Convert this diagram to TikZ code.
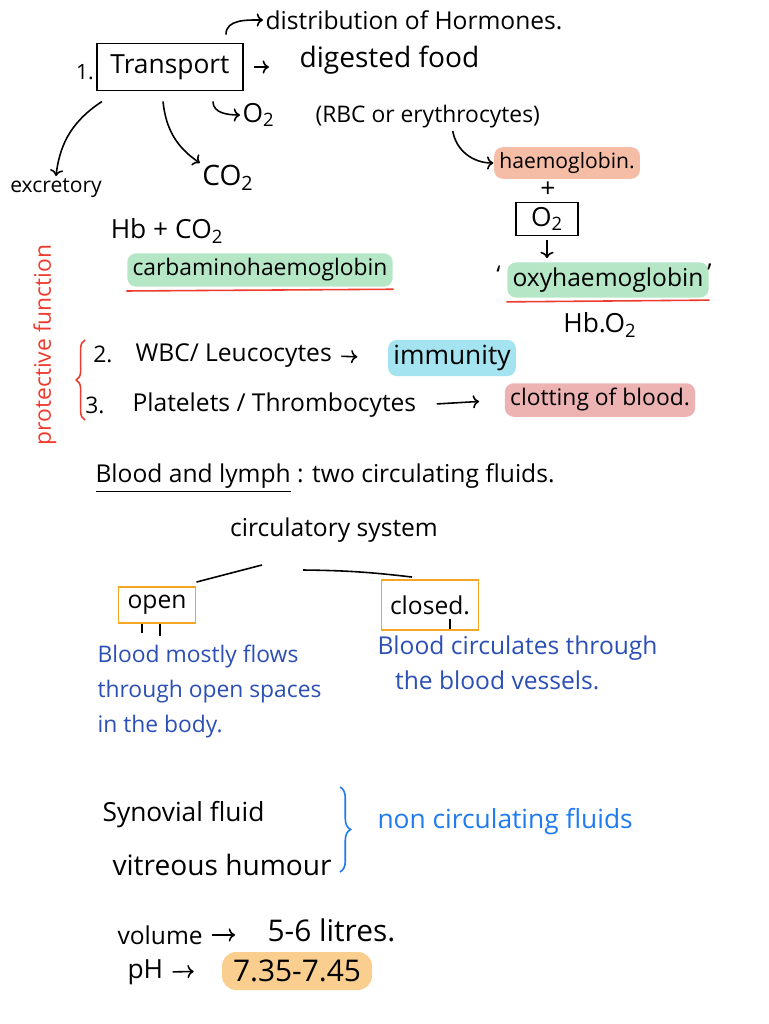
\documentclass[tikz,border=0pt]{standalone}
\usepackage{fontspec}
\setmainfont{Open Sans}
\usetikzlibrary{arrows.meta, positioning, calc, decorations.pathreplacing}
\usepackage{xcolor}
\definecolor{myred}{HTML}{EE3B2E}
\definecolor{myblue}{HTML}{2C4FB5}
\definecolor{mylightblue}{HTML}{1F7BEF}
\definecolor{myorange}{HTML}{F5A623}
\definecolor{mysalmon}{HTML}{F5BCA6}
\definecolor{mygreen}{HTML}{B5E7C6}
\definecolor{mycyan}{HTML}{A3E4F0}
\definecolor{mypink}{HTML}{EDB3B3}
\definecolor{mypeach}{HTML}{F9CE8E}
\newcommand{\handsize}[1]{\fontsize{#1}{#1}\selectfont}

\begin{document}
\begin{tikzpicture}[x=0.02cm, y=0.02cm, line width=0.9pt,
    every node/.style={font=\handsize{14}, inner sep=1pt},
    hl/.style={rounded corners=5pt, inner sep=3pt},
    obox/.style={draw=myorange, line width=1.1pt}]
    \useasboundingbox (0,0) rectangle (768,-1024);
    % transport
    \node[font=\handsize{12}] (one) at (85,-72) {1.};
    \node[draw, line width=1.1pt, minimum width=2.92cm, minimum height=0.94cm, font=\handsize{15}] (transport) at (170,-67) {Transport};
    \node[anchor=west] (dist) at (263,-20) {distribution of Hormones.};
    \node[anchor=west, font=\handsize{16}] (food) at (297,-60) {digested food};
    \node[anchor=west, font=\handsize{15}] (oxy) at (240,-115) {O\textsubscript{2}};
    \node[anchor=west, font=\handsize{13}] (rbc) at (313,-117) {(RBC or erythrocytes)};
    \node[hl, fill=mysalmon, font=\handsize{12}] (haemo) at (567,-163) {haemoglobin.\hspace{12pt}};
    \node[font=\handsize{15}] (plus) at (548,-190) {+};
    \node[draw, line width=1.1pt, minimum width=1.24cm, minimum height=0.66cm, font=\handsize{15}] (obox) at (547,-219) {O\textsubscript{2}};
    \node[hl, fill=mygreen] (oxyhb) at (608,-280) {oxyhaemoglobin};
    \node (oq) [left=2pt of oxyhb.west, yshift=3pt] {‘};
    \node (cq) [anchor=north] at (oxyhb.north east) {’};
    \node[font=\handsize{15}] (hbo) at (600,-325) {Hb.O\textsubscript{2}};
    \node[font=\handsize{12}] (excretory) at (56,-188) {excretory};
    \node[font=\handsize{16}] (co2) at (228,-178) {CO\textsubscript{2}};
    \node[font=\handsize{15}] (hbco) at (167,-231) {Hb + CO\textsubscript{2}};
    \node[hl, fill=mygreen, font=\handsize{13}] (carb) at (260,-270) {carbaminohaemoglobin};
    \draw[->] ($(transport.north east)+(-18,8)$) to[out=90, in=180] (dist.west);
    \draw[->, shorten <=6pt, shorten >=16pt] (transport.east) -- (transport.east -| food.west);
    \draw[->] ($(transport.south east)+(-31,-10)$) to[out=-90, in=180] (oxy.west);
    \draw[->] ($(transport.south west)+(6,-10)$) to[bend right=25] (excretory.north);
    \draw[->] ($(transport.south)+(-7,-10)$) to[bend right=25] (co2.north west);
    \draw[->] ([xshift=0.5cm]rbc.south) to[out=-80, in=180] (haemo.west);
    \draw[->, shorten <=2pt, shorten >=2pt] (obox.south) -- (obox.south |- oxyhb.north);
    \draw[myred] ([yshift=-2pt]carb.south west) -- ([yshift=-1pt]carb.south east);
    \draw[myred] ([yshift=-2pt]oxyhb.south west) -- ([yshift=-1pt]oxyhb.south east);
    % other functions
    \node[rotate=90, myred, font=\handsize{13}] (protect) at (45,-345) {protective function};
    \draw[myred, decorate, decoration={brace, amplitude=5pt}] (85,-420) -- (85,-340);
    \node[font=\handsize{13}] (two) at (103,-354) {2.};
    \node[anchor=west] (wbc) at (133,-356) {WBC/ Leucocytes};
    \node[hl, fill=mycyan, font=\handsize{15}] (immunity) at (452,-358) {immunity};
    \node[font=\handsize{13}] (three) at (95,-405) {3.};
    \node[anchor=west] (plate) at (130,-405) {Platelets / Thrombocytes};
    \node[hl, fill=mypink, font=\handsize{13}] (clot) at (600,-400) {clotting of blood.};
    \draw[->, shorten <=4pt, shorten >=0.6cm] (wbc.east) -- (immunity.west);
    \draw[->, shorten <=0.36cm, shorten >=0.5cm] (plate.east) -- (clot.west);
    % circulatory system
    \node[anchor=west] (lymph) at (93,-478) {\underline{Blood and lymph} : two circulating fluids.};
    \node (circ) at (334,-530) {circulatory system};
    \node[obox, minimum width=1.54cm, minimum height=0.72cm] (open) at (157,-605) {open};
    \node[obox, minimum width=1.94cm, minimum height=1.0cm] (closed) at (430,-605) {closed.};
    \coordinate (forkL) at (262,-565);
    \coordinate (forkR) at (303,-570);
    \draw (forkL) -- ($(open.north east)+(0,4)$);
    \draw (forkR) to[bend left=3] ($(closed.north)+(-18,2)$);
    \draw ($(open.south)+(-15,0)$) -- ++(0,-9);
    \draw ($(open.south)+(3,0)$) -- ++(0,-12);
    \draw ($(closed.south)+(20,12)$) -- ++(0,-10);
    \node[anchor=north west, align=left, myblue, font=\fontsize{13}{20}\selectfont] (openinfo) at (95,-642) {Blood mostly flows\\through open spaces\\in the body.};
    \node[anchor=north west, align=left, myblue, font=\fontsize{14}{20}\selectfont] (closedinfo) at (375,-633) {Blood circulates through\\\hspace{10pt}the blood vessels.};
    % non circulating fluids
    \node[anchor=west, font=\handsize{15}] (synovial) at (100,-815) {Synovial fluid};
    \node[anchor=west, font=\handsize{16}] (vitreous) at (110,-865) {vitreous humour};
    \draw[mylightblue, decorate, decoration={brace, amplitude=6pt}] (340,-787) -- (340,-872);
    \node[anchor=west, mylightblue, font=\handsize{15}] (noncirc) at (375,-822) {non circulating fluids};
    % volume and pH
    \node[anchor=west] (volume) at (115,-935) {volume};
    \node[anchor=west, font=\handsize{17}] (litres) at (265,-930) {5-6 litres.};
    \node[anchor=west, font=\handsize{15}] (ph) at (125,-972) {pH};
    \node[hl, fill=mypeach, font=\handsize{17}, minimum width=3cm, minimum height=0.76cm, rounded corners=8pt] (range) at (297,-971) {7.35-7.45};
    \draw[->, shorten <=4pt, shorten >=0.6cm] (volume.east) -- (volume.east -| litres.west);
    \draw[->, shorten <=4pt, shorten >=0.55cm] (ph.east) -- (range.west);
\end{tikzpicture}
\end{document}
